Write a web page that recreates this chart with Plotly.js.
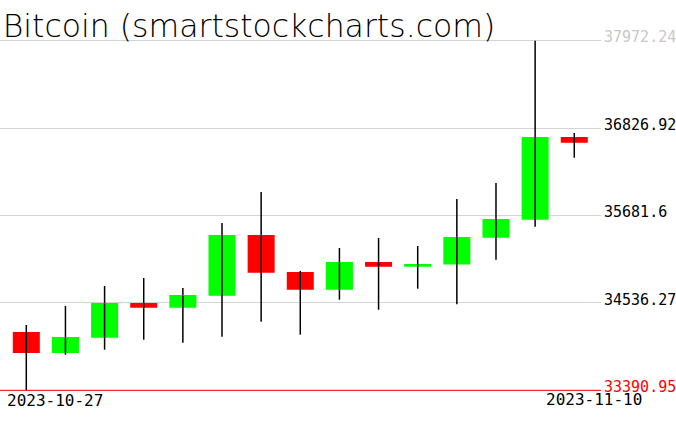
<!DOCTYPE html>
<html>
<head>
<meta charset="utf-8">
<script src="https://cdn.plot.ly/plotly-3.0.1.min.js"></script>
<style>
  html, body { margin: 0; padding: 0; background: #fff; }
  #chart { width: 676px; height: 431px; }
</style>
</head>
<body>
<div id="chart"></div>
<script>
// daily candles
var dates = ['2023-10-27', '2023-10-28', '2023-10-29', '2023-10-30', '2023-10-31',
             '2023-11-01', '2023-11-02', '2023-11-03', '2023-11-04', '2023-11-05',
             '2023-11-06', '2023-11-07', '2023-11-08', '2023-11-09', '2023-11-10'];
var opens  = [34155.0, 33879.8, 34080.3, 34535.0, 34473.4, 34630.7, 35426.1, 34941.2,
              34709.3, 35072.2, 35010.7, 35040.0, 35390.7, 35626.6, 36710.3];
var highs  = [34246.7, 34495.7, 34757.8, 34862.6, 34731.6, 35583.3, 35989.6, 34954.3,
              35255.7, 35386.8, 35281.9, 35897.8, 36107.5, 37972.24, 36762.7];
var lows   = [33390.95, 33857.5, 33923.1, 34054.1, 34014.8, 34093.4, 34290.0, 34119.6,
              34578.3, 34447.2, 34722.4, 34518.0, 35102.4, 35534.9, 36439.0];
var closes = [33879.8, 34089.5, 34535.0, 34473.4, 34639.9, 35426.1, 34932.1, 34709.3,
              35072.2, 35010.7, 35046.1, 35399.9, 35635.8, 36710.3, 36635.6];

var tickLabels = ['33390.95', '34536.27', '35681.6', '36826.92', '37972.24'];
var tickColors = ['#ff0000', '#000000', '#000000', '#000000', '#c8c8c8'];
var firstLabel = '2023-10-27';
var lastLabel = '2023-11-10';

var lo = Math.min.apply(null, lows);
var hi = Math.max.apply(null, highs);
// a few pixels of room so the min/max lines aren't sitting on the plot edge
var pad = (hi - lo) * 2.7 / 349.6;

// wicks as one broken line, so they can be black under coloured bodies
var wickX = [], wickY = [];
dates.forEach(function (d, i) {
    wickX.push(d, d, null);
    wickY.push(lows[i], highs[i], null);
});

var data = [
    {
        x: wickX,
        y: wickY,
        type: 'scatter',
        mode: 'lines',
        line: { color: '#000000', width: 1.5 },
        hoverinfo: 'skip',
        showlegend: false
    },
    {
        x: dates,
        open: opens,
        high: highs,
        low: lows,
        close: closes,
        type: 'candlestick',
        increasing: { fillcolor: '#00ff00', line: { color: '#00ff00', width: 0 } },
        decreasing: { fillcolor: '#ff0000', line: { color: '#ff0000', width: 0 } },
        showlegend: false
    }
];

var layout = {
    width: 676,
    height: 431,
    margin: { l: 0, r: 75, t: 38, b: 38 },
    paper_bgcolor: '#ffffff',
    plot_bgcolor: '#ffffff',
    showlegend: false,
    boxgap: 0.31,
    boxgroupgap: 0,
    title: {
        text: 'Bitcoin (smartstockcharts.com)',
        x: 0.004,
        xref: 'container',
        xanchor: 'left',
        y: 0.94,
        yref: 'container',
        yanchor: 'middle',
        font: { family: 'DejaVu Sans', size: 31.5, weight: 200, color: '#000000' }
    },
    xaxis: {
        type: 'category',
        range: [-0.672, 14.683],
        showgrid: false,
        showticklabels: false,
        zeroline: false,
        showline: false,
        ticks: '',
        rangeslider: { visible: false },
        fixedrange: true
    },
    yaxis: {
        side: 'right',
        range: [lo - pad, hi + pad],
        tickvals: tickLabels.map(Number),
        ticktext: tickLabels.map(function (t, i) {
            return '<span style="color:' + tickColors[i] + '">' + t + '</span>';
        }),
        ticklabelposition: 'outside top',
        ticklabelshift: 7,
        ticklabelstandoff: 2,
        tickfont: { family: 'DejaVu Sans Mono', size: 15, color: '#000000' },
        showgrid: true,
        gridcolor: '#d3d3d3',
        gridwidth: 1,
        zeroline: false,
        showline: false,
        ticks: '',
        fixedrange: true
    },
    shapes: [
        {
            type: 'line',
            xref: 'paper', x0: 0, x1: 1,
            yref: 'y', y0: lo, y1: lo,
            line: { color: '#ff0000', width: 1 }
        }
    ],
    annotations: [
        {
            x: dates.indexOf(firstLabel), y: lo, xref: 'x', yref: 'y',
            text: firstLabel, showarrow: false,
            xanchor: 'left', yanchor: 'top', xshift: -21, yshift: 1.5,
            font: { family: 'DejaVu Sans Mono', size: 16, color: '#000000' }
        },
        {
            x: dates.indexOf(lastLabel), y: lo, xref: 'x', yref: 'y',
            text: lastLabel, showarrow: false,
            xanchor: 'right', yanchor: 'top', xshift: 70, yshift: 2.5,
            font: { family: 'DejaVu Sans Mono', size: 16, color: '#000000' }
        }
    ]
};

Plotly.newPlot('chart', data, layout, { displayModeBar: false, staticPlot: true });
</script>
</body>
</html>
